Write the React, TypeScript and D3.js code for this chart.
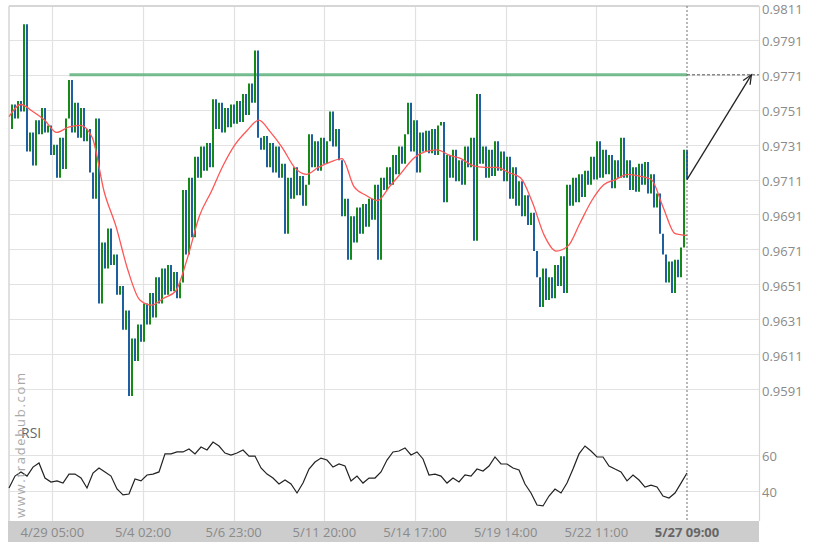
import React from 'react';
import * as d3 from 'd3';

// Price closes (evenly spaced across the visible history)
const closes: number[] = [
  0.9740, 0.9754, 0.9746, 0.9756, 0.9750, 0.9800, 0.9727, 0.9738, 0.9719, 0.9745,
  0.9737, 0.9752, 0.9738, 0.9742, 0.9725, 0.9731, 0.9712, 0.9735, 0.9717, 0.9746,
  0.9768, 0.9738, 0.9755, 0.9735, 0.9752, 0.9733, 0.9740, 0.9715, 0.9700, 0.9746,
  0.9640, 0.9675, 0.9660, 0.9683, 0.9662, 0.9668, 0.9645, 0.9650, 0.9625, 0.9636,
  0.9587, 0.9620, 0.9607, 0.9628, 0.9618, 0.9640, 0.9628, 0.9646, 0.9632, 0.9655,
  0.9640, 0.9660, 0.9645, 0.9662, 0.9647, 0.9658, 0.9643, 0.9652, 0.9705, 0.9668,
  0.9712, 0.9678, 0.9724, 0.9712, 0.9730, 0.9716, 0.9732, 0.9718, 0.9757, 0.9740,
  0.9755, 0.9738, 0.9752, 0.9741, 0.9754, 0.9743, 0.9756, 0.9744, 0.9760, 0.9748,
  0.9766, 0.9755, 0.9785, 0.9735, 0.9728, 0.9736, 0.9718, 0.9732, 0.9715, 0.9730,
  0.9712, 0.9720, 0.9680, 0.9712, 0.9700, 0.9718, 0.9702, 0.9713, 0.9696, 0.9708,
  0.9737, 0.9718, 0.9733, 0.9716, 0.9735, 0.9720, 0.9733, 0.9750, 0.9730, 0.9740,
  0.9722, 0.9690, 0.9700, 0.9665, 0.9690, 0.9675, 0.9695, 0.9680, 0.9697, 0.9684,
  0.9700, 0.9688, 0.9708, 0.9665, 0.9712, 0.9705, 0.9718, 0.9708, 0.9725, 0.9714,
  0.9730, 0.9720, 0.9737, 0.9755, 0.9727, 0.9745, 0.9715, 0.9738, 0.9727, 0.9739,
  0.9726, 0.9740, 0.9725, 0.9742, 0.9744, 0.9698, 0.9725, 0.9712, 0.9728, 0.9710,
  0.9722, 0.9708, 0.9730, 0.9718, 0.9735, 0.9676, 0.9760, 0.9720, 0.9730, 0.9712,
  0.9728, 0.9713, 0.9733, 0.9716, 0.9727, 0.9710, 0.9724, 0.9700, 0.9718, 0.9696,
  0.9710, 0.9690, 0.9702, 0.9685, 0.9692, 0.9670, 0.9655, 0.9638, 0.9660, 0.9642,
  0.9655, 0.9643, 0.9662, 0.9650, 0.9667, 0.9646, 0.9708, 0.9696, 0.9712, 0.9698,
  0.9714, 0.9701, 0.9716, 0.9708, 0.9724, 0.9711, 0.9733, 0.9712, 0.9728, 0.9714,
  0.9725, 0.9706, 0.9722, 0.9712, 0.9735, 0.9712, 0.9722, 0.9705, 0.9718, 0.9704,
  0.9720, 0.9708, 0.9721, 0.9703, 0.9714, 0.9695, 0.9703, 0.9680, 0.9668, 0.9652,
  0.9664, 0.9646, 0.9665, 0.9655, 0.9672, 0.9728, 0.9711,
];

// Moving average (red line)
const maValues: number[] = [
  0.9747, 0.9754, 0.9750, 0.9745, 0.9738, 0.9741, 0.9742, 0.9735, 0.9704, 0.9684,
  0.9659, 0.9642, 0.9639, 0.9643, 0.9647, 0.9666, 0.9690, 0.9704, 0.9719, 0.9731,
  0.9739, 0.9745, 0.9738, 0.9729, 0.9718, 0.9714, 0.9718, 0.9721, 0.9723, 0.9707,
  0.9702, 0.9699, 0.9707, 0.9715, 0.9723, 0.9727, 0.9728, 0.9725, 0.9723, 0.9719,
  0.9718, 0.9718, 0.9715, 0.9712, 0.9698, 0.9679, 0.9670, 0.9673, 0.9686, 0.9699,
  0.9708, 0.9711, 0.9714, 0.9713, 0.9711, 0.9695, 0.9680, 0.9679,
];

// RSI values
const rsiValues: number[] = [
  41.7, 48.3, 50.6, 48.3, 53.3, 55.6, 47.2, 45.0, 45.6, 44.4,
  49.4, 49.4, 47.2, 41.7, 50.0, 52.8, 50.6, 48.3, 41.1, 37.8,
  38.3, 46.7, 45.6, 48.9, 49.4, 50.6, 60.6, 60.6, 61.7, 61.7,
  63.3, 60.6, 64.4, 62.8, 67.2, 65.0, 61.1, 60.0, 61.1, 62.8,
  59.4, 59.4, 52.8, 49.4, 47.2, 43.9, 46.1, 43.9, 38.9, 44.4,
  52.2, 56.1, 58.3, 57.2, 53.3, 55.0, 53.9, 45.6, 48.3, 44.4,
  47.2, 47.2, 50.6, 57.2, 61.7, 62.2, 63.9, 60.0, 61.7, 57.8,
  48.9, 49.4, 48.3, 44.4, 47.2, 45.0, 48.9, 48.3, 52.2, 51.1,
  53.9, 58.9, 55.0, 55.0, 52.8, 51.7, 43.9, 38.9, 32.2, 31.7,
  37.2, 41.1, 38.9, 44.4, 52.2, 60.6, 65.0, 62.2, 58.9, 58.9,
  53.9, 52.2, 50.6, 45.6, 48.9, 46.1, 42.2, 43.3, 42.2, 37.2,
  36.1, 38.9, 44.4, 50.0,
];

const yTickValues: number[] = [0.9591, 0.9611, 0.9631, 0.9651, 0.9671, 0.9691, 0.9711, 0.9731, 0.9751, 0.9771, 0.9791, 0.9811];
const rsiTickValues: number[] = [40, 60];
const xTickHours: number[] = [33, 102, 171, 240, 309, 378, 447, 516];
const xTickLabels: string[] = ['4/29 05:00', '5/4 02:00', '5/6 23:00', '5/11 20:00', '5/14 17:00', '5/19 14:00', '5/22 11:00', '5/27 09:00'];

const levelPrice = 0.9771;
const levelStartHour = 46;
const lastHour = 516;
const targetHour = 565;
const targetPrice = 0.9771;

export default function App() {
  const W = 822, H = 548;
  const left = 9, right = 759, top = 6, bottom = 521;
  const font = "'Open Sans', 'DejaVu Sans', sans-serif";

  const x = d3.scaleLinear().domain([0, lastHour]).range([left, 687]);
  const xBar = d3.scaleLinear().domain([0, closes.length - 1]).range([x(0), x(lastHour)]);
  const xMa = d3.scaleLinear().domain([0, maValues.length - 1]).range([x(0), x(lastHour)]);
  const xRsi = d3.scaleLinear().domain([0, rsiValues.length - 1]).range([x(0), x(lastHour)]);
  const y = d3.scaleLinear().domain([0.9591, 0.9811]).range([389, 5]);
  const yR = d3.scaleLinear().domain([40, 60]).range([491, 455]);

  const maLine = d3.line<number>().x((_, i) => xMa(i)).y(d => y(d)).curve(d3.curveMonotoneX);
  const rsiLine = d3.line<number>().x((_, i) => xRsi(i)).y(d => yR(d));

  const lastX = x(lastHour);
  const lastY = y(closes[closes.length - 1]);
  const tx = x(targetHour);
  const ty = y(targetPrice);
  const ang = Math.atan2(ty - lastY, tx - lastX);
  const ah = 10;
  const a1 = ang + Math.PI - 0.42;
  const a2 = ang + Math.PI + 0.42;

  const grid = '#e2e2e2';

  return (
    <svg width={W} height={H} style={{ position: 'absolute', left: 0, top: 0, background: '#fff' }}>
      {/* horizontal price grid */}
      {yTickValues.map(v => (
        <line key={'g' + v} x1={left} x2={right} y1={Math.round(y(v)) + 0.5} y2={Math.round(y(v)) + 0.5} stroke={grid} strokeWidth={1.2} />
      ))}
      {/* RSI grid */}
      {rsiTickValues.map(v => (
        <line key={'r' + v} x1={left} x2={right} y1={Math.round(yR(v)) + 0.5} y2={Math.round(yR(v)) + 0.5} stroke={grid} strokeWidth={1.2} />
      ))}
      {/* vertical grid */}
      {xTickHours.slice(0, -1).map(h => (
        <line key={'v' + h} x1={Math.round(x(h)) + 0.5} x2={Math.round(x(h)) + 0.5} y1={top} y2={bottom} stroke={grid} strokeWidth={1.2} />
      ))}
      {/* frame */}
      <line x1={left} x2={right} y1={top} y2={top} stroke="#d6d6d6" strokeWidth={2} />
      <line x1={left} x2={left} y1={top} y2={bottom} stroke="#d6d6d6" strokeWidth={1.5} />
      <line x1={right + 0.5} x2={right + 0.5} y1={top} y2={bottom} stroke="#d6d6d6" strokeWidth={1.2} />

      {/* support/resistance level */}
      <line x1={x(levelStartHour)} x2={lastX} y1={y(levelPrice)} y2={y(levelPrice)} stroke="#5fb37e" strokeWidth={3} opacity={0.85} />

      {/* price bars */}
      {closes.map((c, i) => {
        if (i === 0) return null;
        const p = closes[i - 1];
        const up = c >= p;
        const xi = xBar(i);
        return (
          <line key={'b' + i} x1={xi} x2={xi} y1={y(p)} y2={y(c)} stroke={up ? '#168a16' : '#1d5fa0'} strokeWidth={2} />
        );
      })}

      {/* moving average */}
      <path d={maLine(maValues) || ''} fill="none" stroke="#ff5656" strokeWidth={1.3} />

      {/* RSI */}
      <path d={rsiLine(rsiValues) || ''} fill="none" stroke="#222" strokeWidth={1.2} />

      {/* current time dashed */}
      <line x1={lastX} x2={lastX} y1={top} y2={bottom} stroke="#707070" strokeWidth={1} strokeDasharray="2,2" />
      <line x1={lastX} x2={right} y1={y(levelPrice)} y2={y(levelPrice)} stroke="#555" strokeWidth={1} strokeDasharray="3,2" />

      {/* arrow */}
      <line x1={lastX} y1={lastY} x2={tx} y2={ty} stroke="#222" strokeWidth={1.3} />
      <polyline
        points={`${tx + ah * Math.cos(a1)},${ty + ah * Math.sin(a1)} ${tx},${ty} ${tx + ah * Math.cos(a2)},${ty + ah * Math.sin(a2)}`}
        fill="none" stroke="#222" strokeWidth={1.3}
      />

      {/* y labels */}
      {yTickValues.map(v => (
        <text key={'t' + v} x={762} y={Math.max(y(v) + 2, 9)} dy="0.35em" fontSize={13} fill="#8a8a8a" fontFamily={font}>{v.toFixed(4)}</text>
      ))}
      {rsiTickValues.map(v => (
        <text key={'rt' + v} x={762} y={yR(v) + 1.5} dy="0.35em" fontSize={13} fill="#8a8a8a" fontFamily={font}>{v}</text>
      ))}

      {/* x axis band */}
      <rect x={8} y={bottom} width={right - 8} height={21} fill="#cdcdcd" />
      {xTickHours.map((h, i) => (
        <text key={'x' + h} x={x(h)} y={537} textAnchor="middle" fontSize={13} fontFamily={font}
          fill={i === xTickHours.length - 1 ? '#666' : '#8a8a8a'} fontWeight={i === xTickHours.length - 1 ? 'bold' : 'normal'}>
          {xTickLabels[i]}
        </text>
      ))}

      {/* RSI label & watermark */}
      <text x={21} y={438} fontSize={14} fill="#666" fontFamily={font}>RSI</text>
      <text transform="translate(25,518) rotate(-90)" fontSize={13} fill="#a8a8a8" fontFamily={font}
        textLength={145} lengthAdjust="spacing">www.tradehub.com</text>
    </svg>
  );
}
